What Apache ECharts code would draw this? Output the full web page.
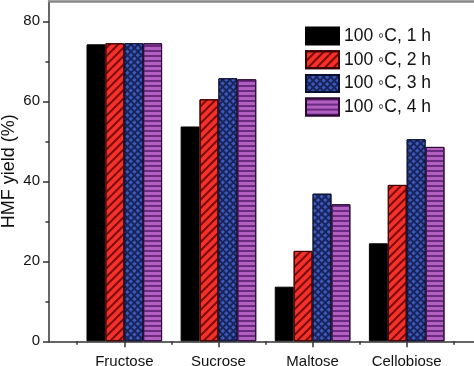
<!DOCTYPE html>
<html>
<head>
<meta charset="utf-8">
<script src="https://cdn.jsdelivr.net/npm/echarts@6/dist/echarts.min.js"></script>
<style>html,body{margin:0;padding:0;background:#fff;}#c{width:474px;height:366px;}</style>
</head>
<body>
<div id="c"></div>
<script>
const categories = ['Fructose', 'Sucrose', 'Maltose', 'Cellobiose'];
const seriesNames = ['100 \u25E6C, 1 h', '100 \u25E6C, 2 h', '100 \u25E6C, 3 h', '100 \u25E6C, 4 h'];
const yield1h = [74.25, 53.7, 13.65, 24.5];
const yield2h = [74.5, 60.5, 22.6, 39.1];
const yield3h = [74.5, 65.75, 36.9, 50.5];
const yield4h = [74.5, 65.5, 34.25, 48.6];
const yTickLabels = [0, 20, 40, 60, 80];
const yMinorTicks = [10, 30, 50, 70];
const xPositions = [1, 2, 3, 4];
const xMinorTicks = [0.5, 1.5, 2.5, 3.5, 4.5];

const allValues = [yield1h, yield2h, yield3h, yield4h];
const styles = [
  { color: '#000000', borderColor: '#000', borderWidth: 1 },
  { color: '#f2322a', borderColor: '#3a0000', borderWidth: 1,
    decal: { symbol: 'rect', symbolSize: 1, dashArrayX: [1, 0], dashArrayY: [1.3, 3.7], rotation: -Math.PI / 4, color: '#7a0808' } },
  { color: '#18245e', borderColor: '#0a0f30', borderWidth: 1,
    decal: { symbol: 'rect', symbolSize: 1, dashArrayX: [2.4, 1.1], dashArrayY: [2.4, 1.1], rotation: Math.PI / 4, color: '#3e5ab8' } },
  { color: '#b35fc2', borderColor: '#2a0a35', borderWidth: 1,
    decal: { symbol: 'rect', symbolSize: 1, dashArrayX: [1, 0], dashArrayY: [1.2, 2.8], rotation: 0, color: '#6a2a80' } }
];

const series = allValues.map((vals, i) => ({
  name: seriesNames[i],
  type: 'bar',
  xAxisIndex: 0,
  yAxisIndex: 0,
  barWidth: 18.9,
  barGap: '0%',
  itemStyle: styles[i],
  emphasis: { disabled: true },
  data: vals.map((v, j) => [xPositions[j], v])
}));

const chart = echarts.init(document.getElementById('c'), null, { renderer: 'canvas' });
chart.setOption({
  animation: false,
  backgroundColor: '#fff',
  grid: { left: 49, top: 1.3, width: 433, height: 340, containLabel: false, outerBoundsMode: 'none' },
  legend: {
    orient: 'vertical',
    left: 305,
    top: 26.5,
    padding: 0,
    itemWidth: 33,
    itemHeight: 17,
    itemGap: 4.7,
    icon: 'rect',
    textStyle: { fontSize: 17.5, color: '#111', fontFamily: 'Liberation Sans, Arial, sans-serif' },
    data: seriesNames
  },
  xAxis: [
    {
      type: 'value', min: 0.2, max: 4.8, position: 'bottom',
      axisLine: { show: true, lineStyle: { color: '#333', width: 1.5 } },
      axisTick: { show: true, customValues: xPositions, length: 6, inside: false, lineStyle: { color: '#333', width: 1.5 } },
      axisLabel: {
        show: true, customValues: xPositions, margin: 13,
        fontSize: 15, color: '#111', fontFamily: 'Liberation Sans, Arial, sans-serif',
        formatter: v => categories[Math.round(v) - 1] || ''
      },
      splitLine: { show: false }
    },
    {
      type: 'value', min: 0.2, max: 4.8, position: 'bottom',
      axisLine: { show: false },
      axisTick: { show: true, customValues: xMinorTicks, length: 3.5, lineStyle: { color: '#333', width: 1.5 } },
      axisLabel: { show: false },
      splitLine: { show: false }
    },
    {
      type: 'value', min: 0.2, max: 4.8, position: 'top',
      axisLine: { show: true, lineStyle: { color: '#888', width: 2.5 } },
      axisTick: { show: false },
      axisLabel: { show: false },
      splitLine: { show: false }
    }
  ],
  yAxis: [
    {
      type: 'value', min: 0, max: 85,
      name: 'HMF yield (%)', nameLocation: 'middle', nameGap: 31, nameRotate: 90, nameMoveOverlap: false,
      nameTextStyle: { fontSize: 18, color: '#111', fontFamily: 'Liberation Sans, Arial, sans-serif' },
      axisLine: { show: true, lineStyle: { color: '#333', width: 1.5 } },
      axisTick: { show: true, customValues: yTickLabels, length: 6, lineStyle: { color: '#333', width: 1.5 } },
      axisLabel: { show: true, customValues: yTickLabels, margin: 9, fontSize: 15, color: '#111', fontFamily: 'Liberation Sans, Arial, sans-serif' },
      splitLine: { show: false }
    },
    {
      type: 'value', min: 0, max: 85, position: 'left',
      axisLine: { show: false },
      axisTick: { show: true, customValues: yMinorTicks, length: 3.5, lineStyle: { color: '#333', width: 1.5 } },
      axisLabel: { show: false },
      splitLine: { show: false }
    }
  ],
  series: series
});
</script>
</body>
</html>
